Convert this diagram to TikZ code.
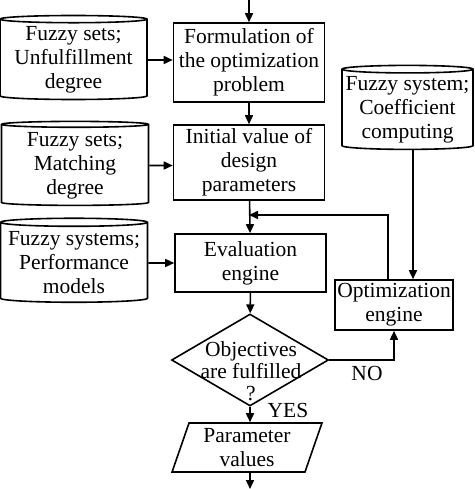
\documentclass[tikz,border=0pt]{standalone}
\usepackage{fontspec}
\setmainfont{Liberation Serif}
\usetikzlibrary{shapes.geometric,arrows.meta}

\tikzset{
  box/.style={draw, minimum width=151pt, align=center, inner sep=1pt},
  store/.style={cylinder, shape border rotate=90, draw, aspect=0.06,
    align=center, inner sep=1pt, minimum width=147pt, minimum height=84pt},
  decision/.style={diamond, draw, inner sep=0pt, minimum width=157pt, minimum height=92pt},
  data/.style={trapezium, trapezium left angle=73, trapezium right angle=107,
    trapezium stretches=true, draw, align=center, minimum width=150pt, minimum height=49pt},
  arr/.style={-{Triangle[length=9pt,width=8pt]}},
}

\begin{document}
\begin{tikzpicture}[x=1pt, y=-1pt, line width=1.6pt, font=\fontsize{21.5}{24}\selectfont]
  \useasboundingbox (0,0) rectangle (474,489);
  % main column
  \coordinate (start) at (249,0);
  \node [box, minimum height=79pt] (form) at (249,62.5) {Formulation of\\the optimization\\problem};
  \node [box, minimum height=75pt] (init) at (249,162.5) {Initial value of\\design\\parameters};
  \node [box, minimum height=58pt] (eval) at (250.5,263) {Evaluation\\engine};
  \node [decision] (check) at (250,360) {};
  \node [align=center] (checktext) at (251,371) {Objectives\\[-2pt]are fulfilled\\[-2pt]?};
  \node [data] (param) at (247,447.5) {Parameter\\values};
  \coordinate (end) at (250,489);
  % stores
  \node [store] (unful) at (73.5,60) {Fuzzy sets;\\Unfulfillment\\degree};
  \node [store] (match) at (75,165.5) {Fuzzy sets;\\Matching\\degree};
  \node [store] (perf) at (74,263) {Fuzzy systems;\\Performance\\models};
  \node [store, minimum width=131pt] (coef) at (407.5,110) {Fuzzy system;\\Coefficient\\computing};
  % optimizer
  \node [box, minimum width=118pt, minimum height=50pt] (opt) at (394,305) {Optimization\\engine};
  \coordinate (loop) at (249,215);

  \draw [arr] (start) -- (form);
  \draw [arr] (form) -- (init);
  \draw [arr] (init) -- (eval);
  \draw [arr] (eval) -- (check);
  \draw [arr] (check) -- (check |- param.north);
  \draw [arr] (param.south -| end) -- (end);
  \draw [arr] (unful) -- (unful -| form.west);
  \draw [arr] (match) -- (match -| init.west);
  \draw [arr] (perf) -- (perf -| eval.west);
  \draw [arr] ([xshift=-6pt]opt.north) |- (loop);
  \draw [arr] ([xshift=19pt]opt.north |- coef.south) -- ([xshift=19pt]opt.north);
  \draw [arr] (check.east) -| (opt.south);
  \node at (367,373) {NO};
  \node at (288,410) {YES};
\end{tikzpicture}
\end{document}
